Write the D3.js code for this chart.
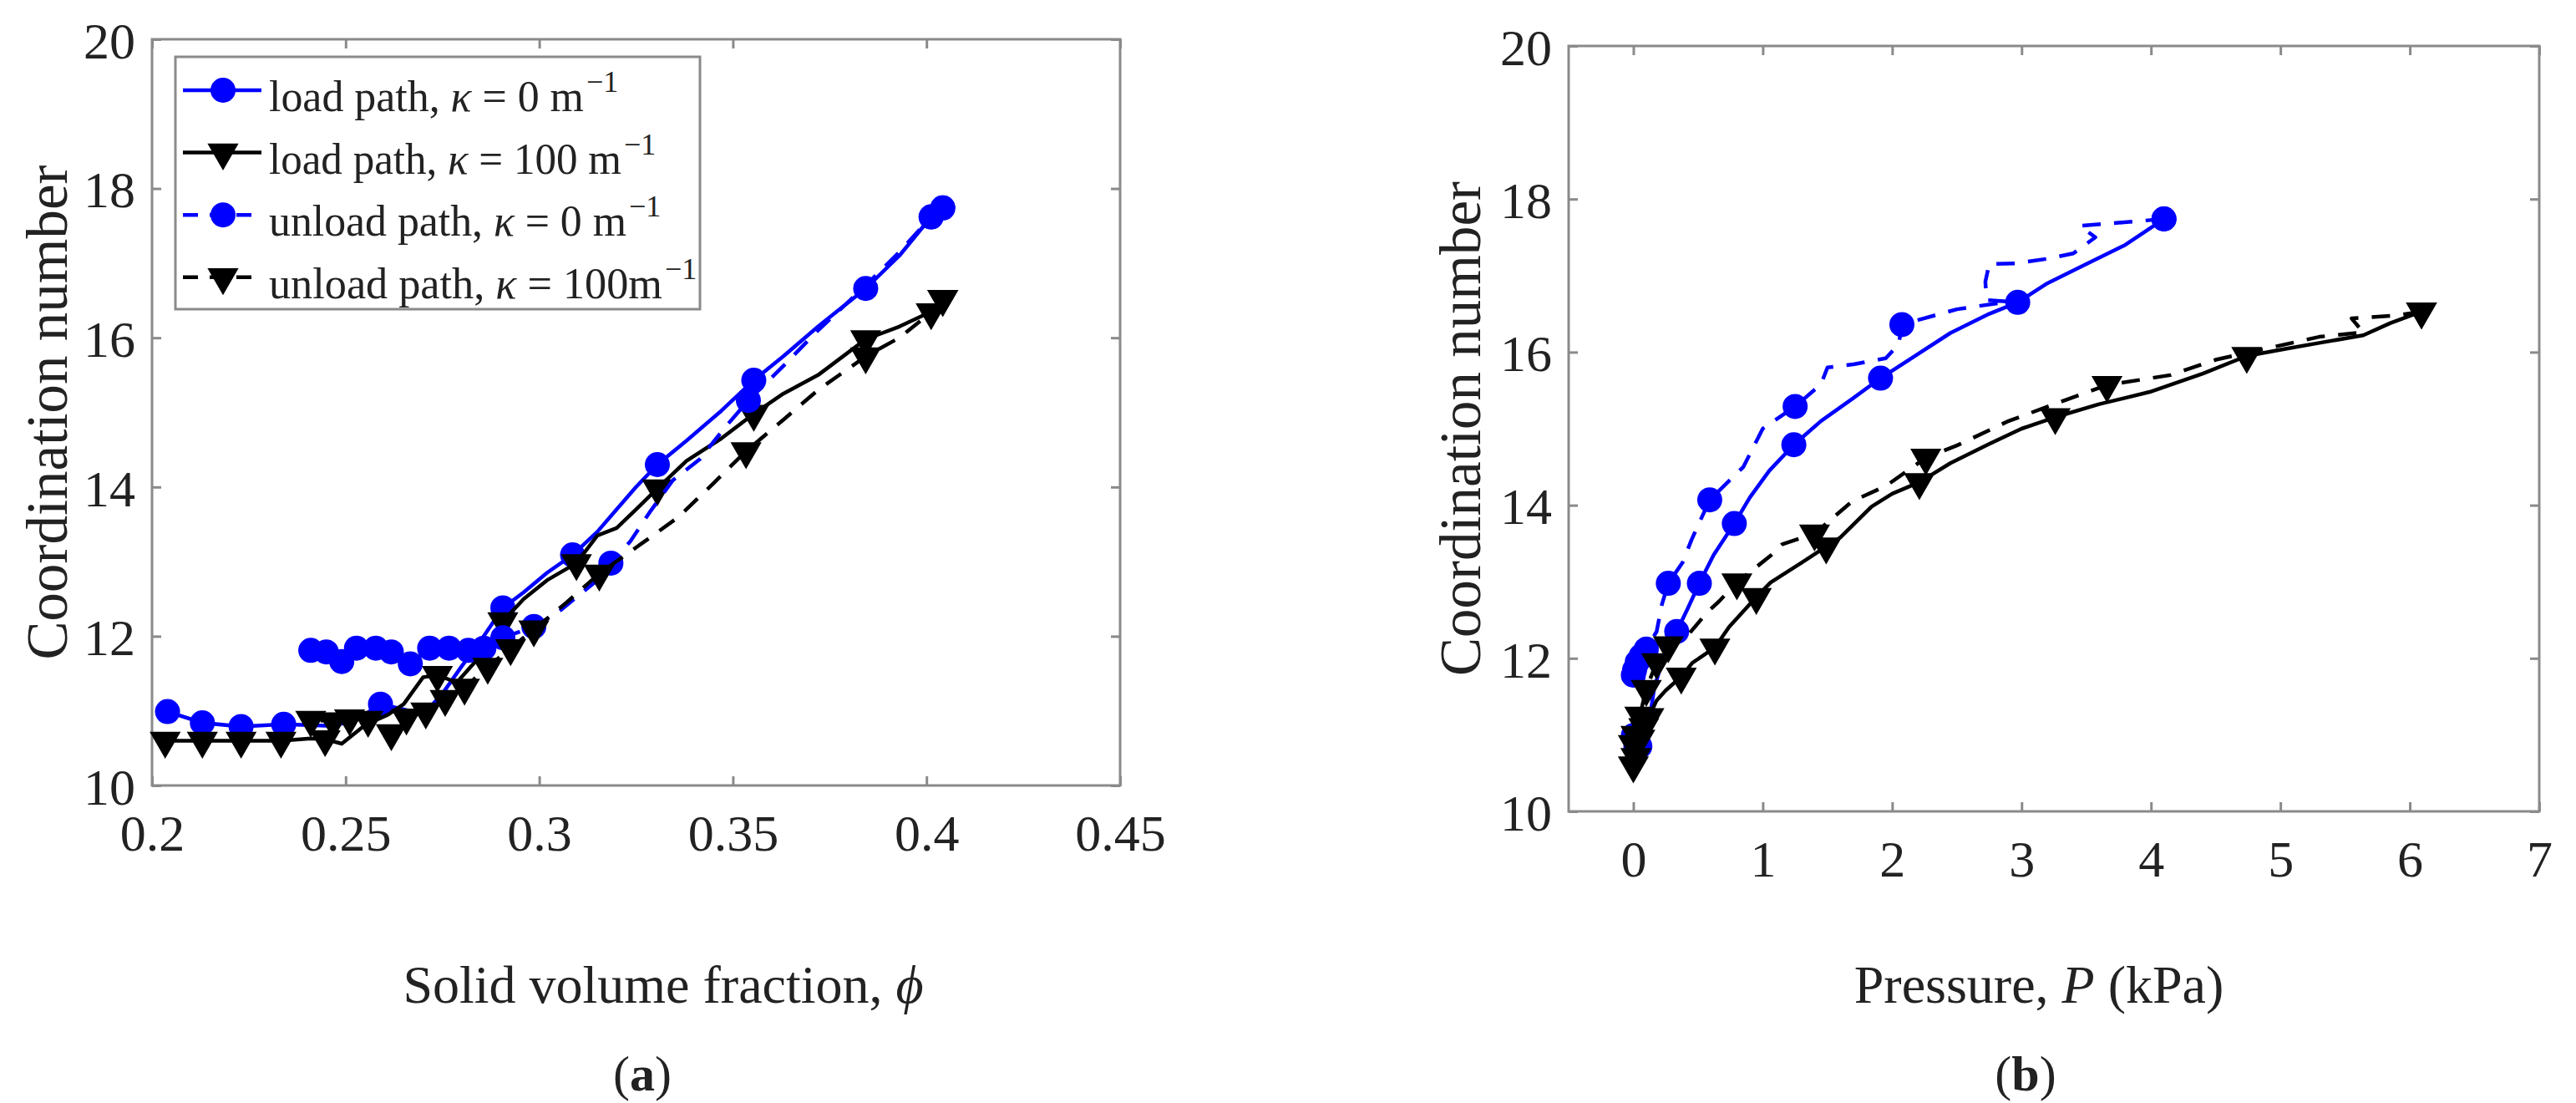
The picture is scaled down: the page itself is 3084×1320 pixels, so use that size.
<!DOCTYPE html>
<html><head><meta charset="utf-8">
<script src="https://cdn.jsdelivr.net/npm/d3@7"></script>
<style>
body{margin:0;background:#fff}
text{font-family:"Liberation Serif","Times New Roman",serif;fill:#222}
</style>
</head><body>
<svg id="chart" width="3084" height="1320"></svg>
<script>
// ---------- tick values ----------
const phiTicks = [0.2, 0.25, 0.3, 0.35, 0.4, 0.45];
const zTicks = [10, 12, 14, 16, 18, 20];
const pTicks = [0, 1, 2, 3, 4, 5, 6, 7];

// ---------- panel (a): coordination number vs solid volume fraction ----------
const aBlueLoadPhi = [0.204,0.213,0.223,0.234,0.245,0.252,0.259,0.265,0.270,0.275,0.280,0.285,0.2906,0.296,0.302,0.3086,0.315,0.320,0.325,0.3305,0.338,0.347,0.3554,0.363,0.372,0.3843,0.393,0.4012,0.4042];
const aBlueLoadZ   = [10.99,10.84,10.79,10.82,10.80,10.85,11.09,11.02,10.95,11.23,11.60,11.95,12.38,12.59,12.85,13.09,13.40,13.70,14.00,14.30,14.62,15.02,15.43,15.75,16.15,16.66,17.10,17.62,17.74];
const aBlueLoadMk  = [0,1,2,3,6,12,15,19,22,25,27,28];

const aBlackLoadPhi = [0.2034,0.213,0.223,0.2333,0.241,0.2447,0.249,0.255,0.261,0.265,0.270,0.2737,0.2787,0.2847,0.2906,0.296,0.302,0.3096,0.315,0.320,0.325,0.3305,0.338,0.347,0.3554,0.363,0.372,0.3843,0.393,0.4012,0.4042];
const aBlackLoadZ   = [10.60,10.60,10.60,10.60,10.63,10.62,10.56,10.81,10.95,11.09,11.45,11.48,11.38,11.73,12.20,12.50,12.75,12.98,13.35,13.45,13.70,13.98,14.35,14.65,14.98,15.25,15.50,15.98,16.15,16.35,16.52];
const aBlackLoadMk  = [0,1,2,3,5,11,14,17,21,24,27,30];

const aBlueUnloadPhi = [0.4042,0.4012,0.393,0.3843,0.372,0.363,0.354,0.348,0.3414,0.3345,0.3285,0.3235,0.3185,0.3145,0.3046,0.2986,0.2906,0.2857,0.2817,0.2767,0.2717,0.2667,0.2618,0.2578,0.2528,0.249,0.245,0.241];
const aBlueUnloadZ   = [17.74,17.62,17.15,16.70,16.10,15.62,15.16,14.80,14.37,14.09,13.66,13.27,12.98,12.73,12.31,12.13,11.98,11.84,11.81,11.84,11.84,11.63,11.79,11.84,11.84,11.66,11.79,11.81];
const aBlueUnloadMk  = [0,1,6,12,15,16,17,18,19,20,21,22,23,24,25,26,27];

const aBlackUnloadPhi = [0.4042,0.4012,0.393,0.3843,0.372,0.363,0.3534,0.345,0.336,0.328,0.3155,0.307,0.2986,0.2926,0.2867,0.2807,0.2757,0.2707,0.2657,0.2618,0.2558,0.251,0.2468,0.241];
const aBlackUnloadZ   = [16.52,16.34,16.00,15.75,15.30,14.90,14.48,14.05,13.60,13.30,12.84,12.45,12.09,11.84,11.59,11.31,11.16,10.99,10.91,10.70,10.88,10.90,10.86,10.88];
const aBlackUnloadMk  = [0,1,3,6,10,12,13,14,15,16,17,18,19,20,21,22,23];

// ---------- panel (b): coordination number vs pressure (kPa) ----------
const bBlueLoadP = [0.00,0.02,0.05,0.10,0.13,0.16,0.22,0.335,0.42,0.51,0.62,0.78,0.90,1.05,1.24,1.45,1.70,1.91,2.15,2.45,2.75,2.97,3.20,3.50,3.80,4.10];
const bBlueLoadZ = [10.99,10.85,10.85,10.95,11.25,11.60,11.95,12.35,12.65,12.98,13.35,13.76,14.10,14.45,14.79,15.10,15.40,15.66,15.92,16.25,16.50,16.65,16.90,17.15,17.40,17.74];
const bBlueLoadMk = [0,1,2,7,9,11,14,17,21,25];

const bBlackLoadP = [0.00,0.02,0.05,0.08,0.12,0.18,0.25,0.37,0.455,0.63,0.74,0.95,1.06,1.30,1.49,1.60,1.84,2.00,2.21,2.45,2.75,3.00,3.26,3.60,3.99,4.40,4.74,5.03,5.30,5.64,5.85,6.09];
const bBlackLoadZ = [10.60,10.71,10.95,11.10,11.23,11.45,11.58,11.76,11.94,12.14,12.41,12.80,12.99,13.25,13.46,13.58,13.98,14.15,14.30,14.55,14.80,15.00,15.15,15.32,15.48,15.72,15.95,16.04,16.12,16.22,16.38,16.53];
const bBlackLoadMk = [0,1,2,3,4,7,9,11,14,18,22,26,31];

const bBlueUnloadP = [4.10,3.75,3.45,3.57,3.40,3.20,2.95,2.75,2.72,2.73,2.90,2.50,2.075,2.05,1.95,1.70,1.50,1.45,1.25,1.00,0.85,0.59,0.45,0.38,0.27,0.22,0.18,0.10,0.06,0.03,0.01,0.00];
const bBlueUnloadZ = [17.74,17.69,17.65,17.50,17.29,17.22,17.16,17.15,16.92,16.68,16.66,16.56,16.36,16.10,15.92,15.84,15.80,15.58,15.29,15.00,14.50,14.07,13.55,13.25,12.98,12.70,12.35,12.12,12.03,11.95,11.85,11.78];
const bBlueUnloadMk = [0,12,18,21,24,27,28,29,30,31];

const bBlackUnloadP = [6.09,5.90,5.55,5.64,5.30,4.90,4.50,4.15,3.66,3.30,2.90,2.50,2.26,1.95,1.69,1.40,1.15,1.06,0.80,0.66,0.57,0.42,0.27,0.18,0.10,0.05,0.02,0.00];
const bBlackUnloadZ = [16.53,16.48,16.44,16.26,16.20,16.05,15.90,15.70,15.57,15.35,15.10,14.78,14.62,14.25,14.05,13.63,13.49,13.34,12.99,12.74,12.60,12.30,12.17,11.95,11.60,11.25,11.00,10.88];
const bBlackUnloadMk = [0,8,12,15,18,22,23,24,25,26,27];

// ---------- legend ----------
const legendLabels = [
  {pre:"load path, ", k:"κ", post:" = 0 m", sup:"−1"},
  {pre:"load path, ", k:"κ", post:" = 100 m", sup:"−1"},
  {pre:"unload path, ", k:"κ", post:" = 0 m", sup:"−1"},
  {pre:"unload path, ", k:"κ", post:" = 100m", sup:"−1"}
];
const legendTextLen = [377, 422, 428, 471];

// ---------- drawing ----------
const BLUE = "#0000ff", BLACK = "#000000", AXIS = "#8a8a8a";
const svg = d3.select("#chart");
svg.append("rect").attr("width",3084).attr("height",1320).attr("fill","#fff");

const zip = (xs, ys) => xs.map((x,i)=>[x, ys[i]]);

const seriesStyle = [
  {color:BLUE, dashed:false, marker:"circle"},
  {color:BLACK, dashed:false, marker:"tri"},
  {color:BLUE, dashed:true, marker:"circle"},
  {color:BLACK, dashed:true, marker:"tri"}
];

function drawMarker(g, type, color, x, y){
  if(type==="circle"){
    g.append("circle").attr("cx",x).attr("cy",y).attr("r",15).attr("fill",color);
  } else {
    g.append("path").attr("d", d3.symbol(d3.symbolTriangle, 600)())
      .attr("transform",`translate(${x},${y}) rotate(180)`).attr("fill",color);
  }
}

function drawPanel(cfg){
  const g = svg.append("g");
  const x = d3.scaleLinear(cfg.xDomain, [cfg.left, cfg.right]);
  const y = d3.scaleLinear([10,20], [cfg.bottom, cfg.top]);

  const bottom = g.append("g").attr("transform",`translate(0,${cfg.bottom})`)
    .call(d3.axisBottom(x).tickValues(cfg.xTicks).tickSizeInner(-11).tickSizeOuter(0).tickPadding(34).tickFormat(cfg.fmt));
  const top = g.append("g").attr("transform",`translate(0,${cfg.top})`)
    .call(d3.axisTop(x).tickValues(cfg.xTicks).tickSizeInner(-11).tickSizeOuter(0).tickFormat(""));
  const left = g.append("g").attr("transform",`translate(${cfg.left},0)`)
    .call(d3.axisLeft(y).tickValues(zTicks).tickSizeInner(-11).tickSizeOuter(0).tickPadding(20));
  const right = g.append("g").attr("transform",`translate(${cfg.right},0)`)
    .call(d3.axisRight(y).tickValues(zTicks).tickSizeInner(-11).tickSizeOuter(0).tickFormat(""));
  [bottom,top,left,right].forEach(a=>{
    a.attr("font-family",null);
    a.select(".domain").remove();
    a.selectAll(".tick line").attr("stroke",AXIS).attr("stroke-width",3);
    a.selectAll("text").attr("font-family","Liberation Serif").attr("font-size",62).attr("fill","#222");
  });
  left.selectAll("text").attr("dy","0.36em");
  g.append("rect").attr("x",cfg.left).attr("y",cfg.top)
    .attr("width",cfg.right-cfg.left).attr("height",cfg.bottom-cfg.top)
    .attr("fill","none").attr("stroke",AXIS).attr("stroke-width",3);

  const line = d3.line().x(d=>x(d[0])).y(d=>y(d[1]));
  cfg.series.forEach((s,i)=>{
    const st = seriesStyle[i];
    const pts = zip(s.x, s.y);
    g.append("path").attr("d", line(pts)).attr("fill","none")
      .attr("stroke", st.color).attr("stroke-width", 4.5)
      .attr("stroke-linejoin","round")
      .attr("stroke-dasharray", st.dashed ? "22,16" : null);
    s.mk.forEach(k=>drawMarker(g, st.marker, st.color, x(pts[k][0]), y(pts[k][1])));
  });

  g.append("text").attr("transform",`translate(${cfg.yTitleX},${(cfg.top+cfg.bottom)/2}) rotate(-90)`)
    .attr("text-anchor","middle").attr("font-size",69)
    .attr("textLength",592).attr("lengthAdjust","spacingAndGlyphs")
    .text("Coordination number");
  const xt = g.append("text").attr("x",cfg.xTitleX).attr("y",1200)
    .attr("text-anchor","middle").attr("font-size",64);
  cfg.xTitle.forEach(p=>{
    const t = xt.append("tspan").text(p.t);
    if(p.i) t.attr("font-style","italic");
  });
  const pl = g.append("text").attr("x",cfg.tagX).attr("y",1305)
    .attr("text-anchor","middle").attr("font-size",60);
  pl.append("tspan").text("(");
  pl.append("tspan").attr("font-weight","bold").text(cfg.tag);
  pl.append("tspan").text(")");
}

drawPanel({
  left:182, right:1341, top:47, bottom:940,
  xDomain:[0.2,0.45], xTicks:phiTicks, fmt:d3.format("~g"),
  yTitleX:80, xTitleX:794, tagX:769, tag:"a",
  xTitle:[{t:"Solid volume fraction, "},{t:"ϕ", i:true}],
  series:[
    {x:aBlueLoadPhi, y:aBlueLoadZ, mk:aBlueLoadMk},
    {x:aBlackLoadPhi, y:aBlackLoadZ, mk:aBlackLoadMk},
    {x:aBlueUnloadPhi, y:aBlueUnloadZ, mk:aBlueUnloadMk},
    {x:aBlackUnloadPhi, y:aBlackUnloadZ, mk:aBlackUnloadMk}
  ]
});

drawPanel({
  left:1878, right:3040, top:55, bottom:971,
  xDomain:[-0.5,7], xTicks:pTicks, fmt:d3.format("d"),
  yTitleX:1772, xTitleX:2441, tagX:2425, tag:"b",
  xTitle:[{t:"Pressure, "},{t:"P", i:true},{t:" (kPa)"}],
  series:[
    {x:bBlueLoadP, y:bBlueLoadZ, mk:bBlueLoadMk},
    {x:bBlackLoadP, y:bBlackLoadZ, mk:bBlackLoadMk},
    {x:bBlueUnloadP, y:bBlueUnloadZ, mk:bBlueUnloadMk},
    {x:bBlackUnloadP, y:bBlackUnloadZ, mk:bBlackUnloadMk}
  ]
});

// legend in panel (a)
const lg = svg.append("g");
lg.append("rect").attr("x",210).attr("y",68).attr("width",628).attr("height",302)
  .attr("fill","#fff").attr("stroke","#8a8a8a").attr("stroke-width",3);
legendLabels.forEach((lab,i)=>{
  const cy = 108 + i*74.6;
  const st = seriesStyle[i];
  lg.append("line").attr("x1",219).attr("x2",313).attr("y1",cy).attr("y2",cy)
    .attr("stroke",st.color).attr("stroke-width",4.5)
    .attr("stroke-dasharray", st.dashed ? "18,14" : null);
  drawMarker(lg, st.marker, st.color, 267, cy);
  const t = lg.append("text").attr("x",322).attr("y",cy+25).attr("font-size",52)
    .attr("textLength",legendTextLen[i]).attr("lengthAdjust","spacingAndGlyphs");
  t.append("tspan").text(lab.pre);
  t.append("tspan").attr("font-style","italic").text(lab.k);
  t.append("tspan").text(lab.post);
  lg.append("text").attr("x",322+legendTextLen[i]+3).attr("y",cy+2).attr("font-size",36).text(lab.sup);
});
</script>
</body></html>
